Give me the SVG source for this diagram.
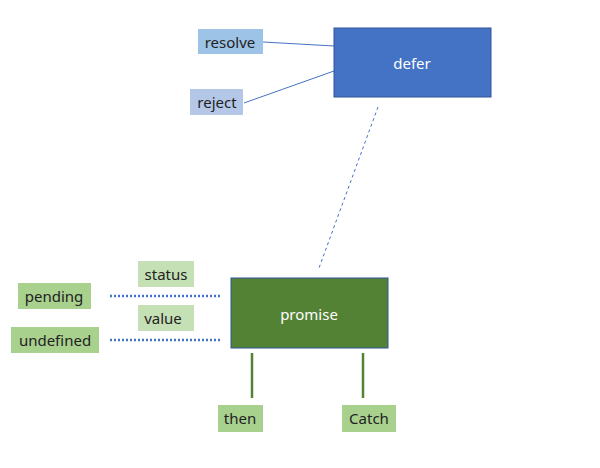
<svg xmlns="http://www.w3.org/2000/svg" width="600" height="468" viewBox="0 0 600 468">
<style>
text{font-family:"Noto Sans","Liberation Sans",sans-serif;font-size:15px;text-anchor:middle;dominant-baseline:central}
.lb{fill:#9dc3e6}.lp{fill:#b4c7e7}.g{fill:#a9d18e}.gl{fill:#c5e0b4}
.d{fill:#222}.w{fill:#fff}
</style>
<rect width="600" height="468" fill="#fff"/>
<g id="connectors">
<line x1="263" y1="42" x2="334" y2="46" stroke="#4472c4" stroke-width="1"/>
<line x1="244" y1="103" x2="334" y2="71" stroke="#4472c4" stroke-width="1"/>
<line x1="378" y1="107" x2="319" y2="268" stroke="#4472c4" stroke-width="1" stroke-dasharray="3,3"/>
<line x1="110" y1="296" x2="222" y2="296" stroke="#4472c4" stroke-width="2.5" stroke-dasharray="2,2"/>
<line x1="110" y1="340" x2="222" y2="340" stroke="#4472c4" stroke-width="2.5" stroke-dasharray="2,2"/>
<line x1="252" y1="353" x2="252" y2="398" stroke="#548235" stroke-width="2.5"/>
<line x1="363" y1="353" x2="363" y2="398" stroke="#548235" stroke-width="2.5"/>
</g>
<g id="defer"><rect x="334" y="28" width="157" height="69" fill="#4472c4" stroke="#2f5597"/><text x="412" y="63" class="w">defer</text></g>
<g id="resolve"><rect x="198" y="29" width="65" height="25" class="lb"/><text x="230" y="42" class="d">resolve</text></g>
<g id="reject"><rect x="190" y="89" width="53" height="26" class="lp"/><text x="217" y="102" class="d">reject</text></g>
<g id="promise"><rect x="231" y="278" width="157" height="70" fill="#548235" stroke="#2f5597"/><text x="309" y="314" class="w">promise</text></g>
<g id="status"><rect x="138" y="261" width="56" height="26" class="gl"/><text x="166" y="274" class="d">status</text></g>
<g id="pending"><rect x="18" y="283" width="73" height="26" class="g"/><text x="54" y="296" class="d">pending</text></g>
<g id="value"><rect x="138" y="305" width="56" height="26" class="gl"/><text x="163" y="318" class="d">value</text></g>
<g id="undefined"><rect x="11" y="327" width="88" height="26" class="g"/><text x="55" y="340" class="d">undefined</text></g>
<g id="then"><rect x="218" y="405" width="45" height="27" class="g"/><text x="240" y="418" class="d">then</text></g>
<g id="catch"><rect x="342" y="405" width="54" height="27" class="g"/><text x="369" y="418" class="d">Catch</text></g>
</svg>
